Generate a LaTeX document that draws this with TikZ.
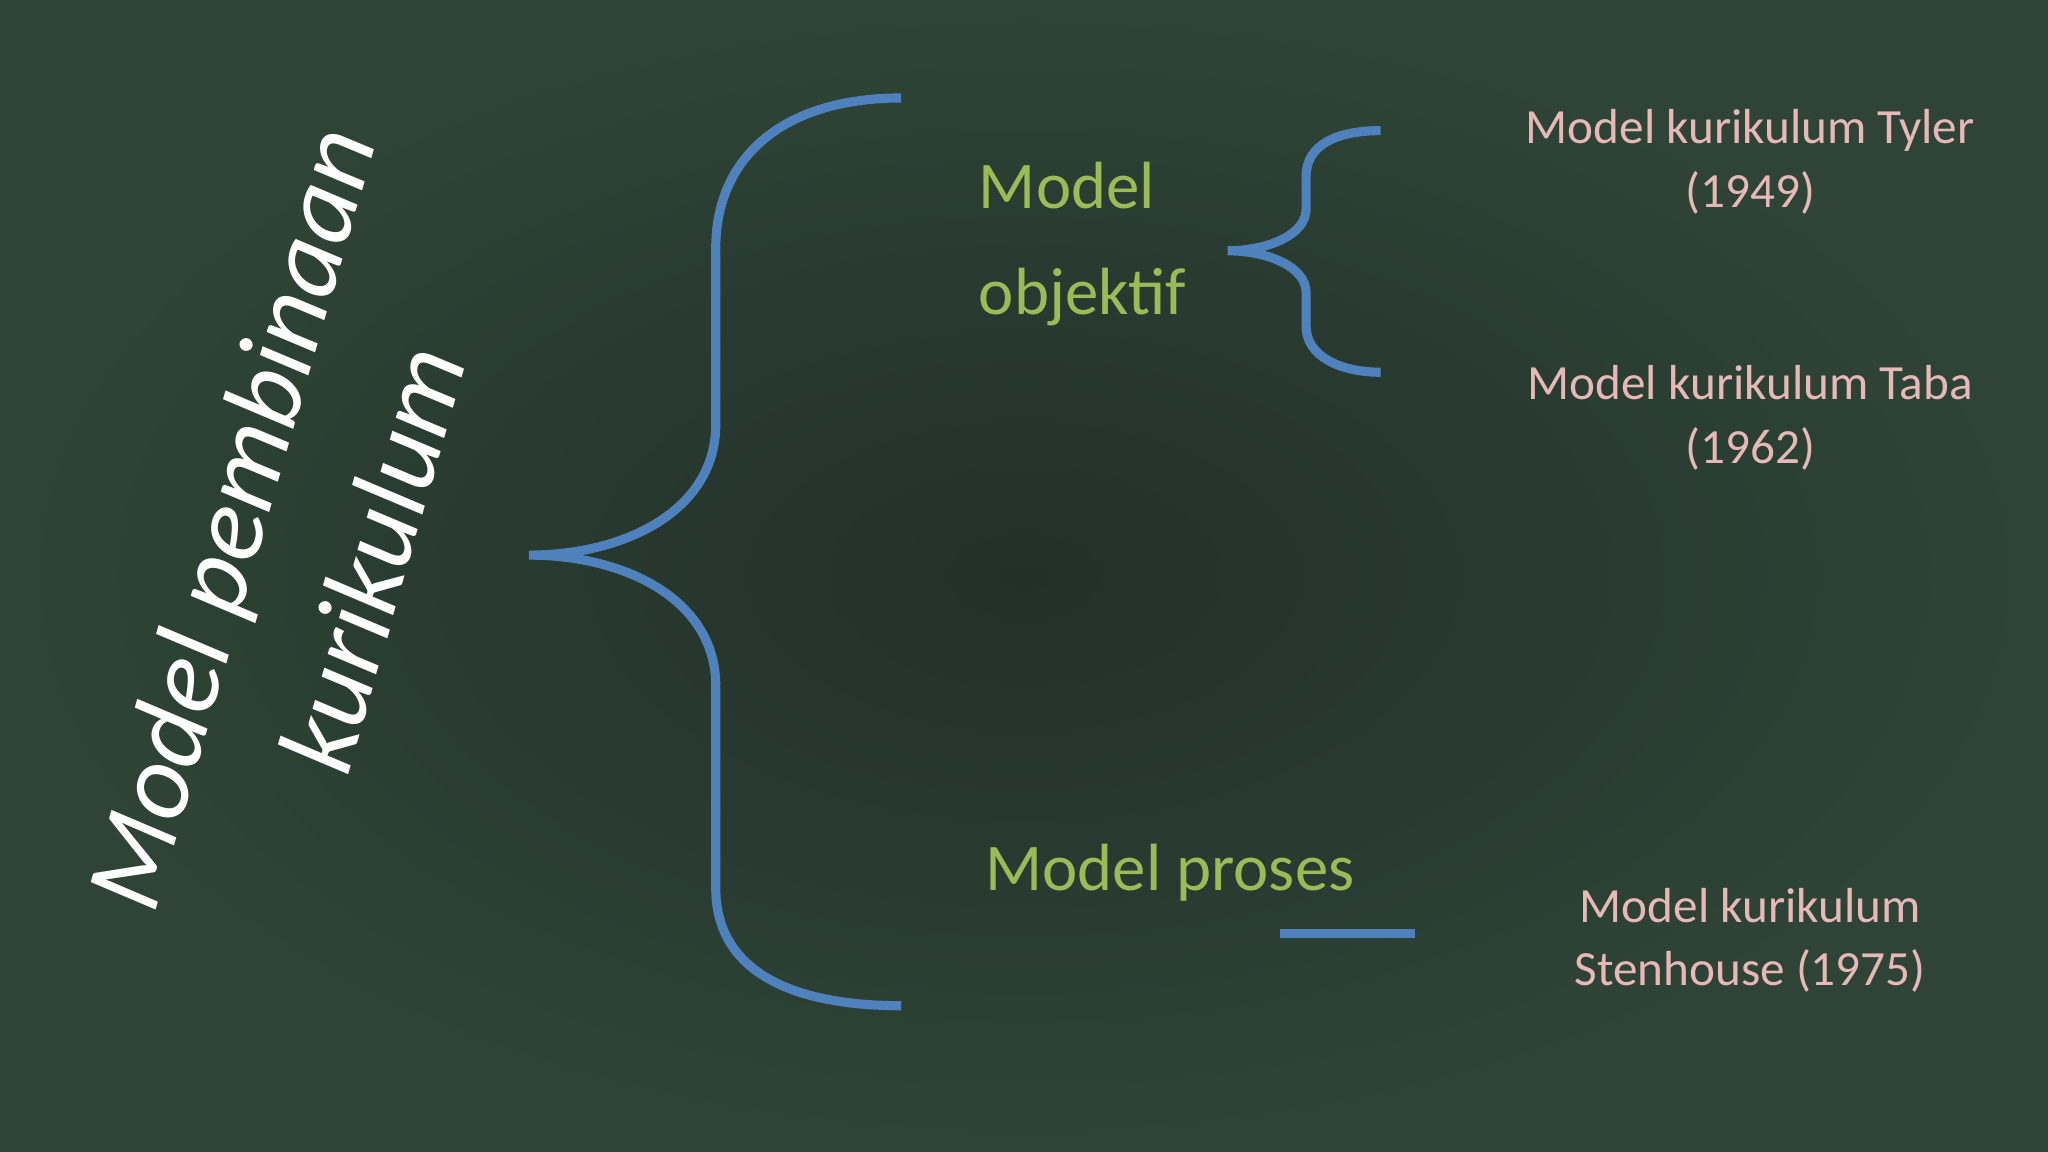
\documentclass[tikz,border=0pt]{standalone}
\usepackage{fontspec}
\setmainfont{Carlito}
\definecolor{bgdark}{HTML}{22302A}
\definecolor{bgedge}{HTML}{2F4436}
\definecolor{bracecol}{HTML}{4F81BD}
\definecolor{greentxt}{HTML}{9BBB59}
\definecolor{pinktxt}{HTML}{E6B9B8}
\tikzset{
  Brace/.style={draw=bracecol, line width=2.6pt},
  GroupText/.style={text=greentxt, font=\fontsize{19}{24}\selectfont, align=left},
  ItemText/.style={text=pinktxt, font=\fontsize{14}{17}\selectfont, align=center}
}
\begin{document}
\begin{tikzpicture}[x=0.01306cm, y=-0.01306cm]
   \shade[inner color=bgdark, outer color=bgedge] (0,0) rectangle (1568,882);
   \useasboundingbox (0,0) rectangle (1568,882);
   % title
   \node[text=white, font=\itshape\fontsize{31}{42}\selectfont, align=center, rotate=74] (title) at (230,412) {Model pembinaan\\kurikulum};
   % braces
   \draw[Brace] (690,75) .. controls (600,75) and (548,120) .. (548,190)
      -- (548,325) .. controls (548,390) and (480,425) .. (405,425)
      .. controls (480,425) and (548,460) .. (548,525)
      -- (548,680) .. controls (548,740) and (600,770) .. (690,770);
   \draw[Brace] (1057,100) .. controls (1025,100) and (1000,110) .. (1000,135)
      -- (1000,160) .. controls (1000,180) and (970,192) .. (940,192)
      .. controls (970,192) and (1000,204) .. (1000,224)
      -- (1000,250) .. controls (1000,272) and (1025,285) .. (1057,285);
   \draw[Brace] (980,715) -- (1083,715);
   % groups
   \node[GroupText, anchor=west] (objektif) at (740,187) {Model\\[6pt]objektif};
   \node[GroupText, anchor=west] (proses) at (745,668) {Model proses};
   % items
   \node[ItemText] (tyler) at (1340,124) {Model kurikulum Tyler\\[1pt](1949)};
   \node[ItemText] (taba) at (1340,320) {Model kurikulum Taba\\[1pt](1962)};
   \node[ItemText] (stenhouse) at (1340,720) {Model kurikulum\\[1pt]Stenhouse (1975)};
\end{tikzpicture}
\end{document}
